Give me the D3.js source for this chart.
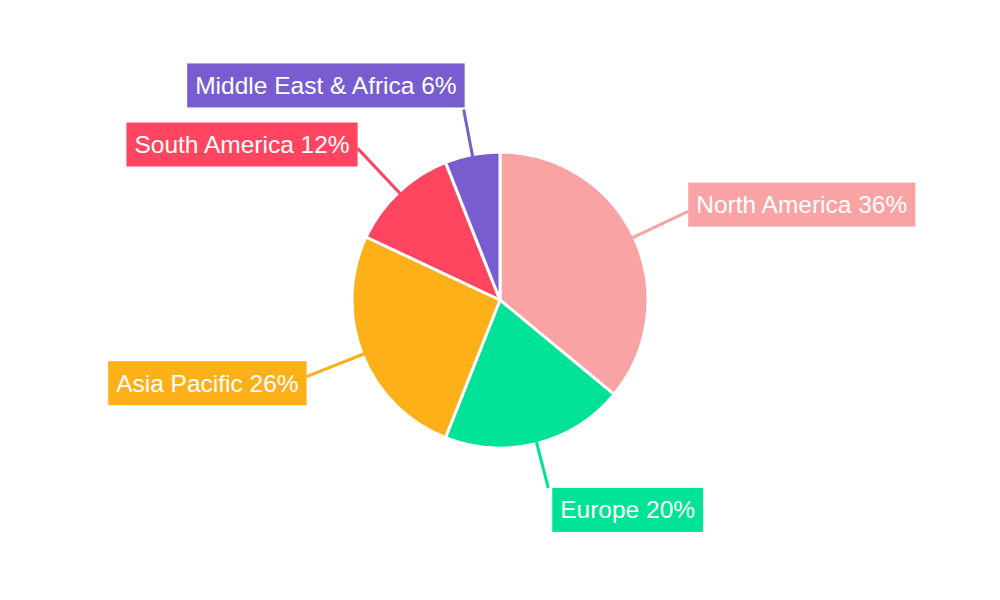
<!DOCTYPE html>
<html><head><meta charset="utf-8">
<script src="https://cdn.jsdelivr.net/npm/d3@7/dist/d3.min.js"></script>
<style>html,body{margin:0;padding:0;background:#fff;}svg{display:block;}</style>
</head><body>
<svg id="c" width="1000" height="600"></svg>
<script>
const categories = ["North America", "Europe", "Asia Pacific", "South America", "Middle East & Africa"];
const values = [36, 20, 26, 12, 6];
const colors = ["#F9A3A4", "#00E396", "#FEB019", "#FF4560", "#775DD0"];

const svg = d3.select("#c");
const cx = 500, cy = 300, R = 148;
const data = categories.map((c, i) => ({ name: c, value: values[i], color: colors[i] }));
const pie = d3.pie().value(d => d.value).sort(null);
const arcs = pie(data);
const arc = d3.arc().innerRadius(0).outerRadius(R);
const g = svg.append("g").attr("transform", `translate(${cx},${cy})`);

g.selectAll("path.slice").data(arcs).join("path")
  .attr("class", "slice")
  .attr("d", arc)
  .attr("fill", d => d.data.color)
  .attr("stroke", "#fff").attr("stroke-width", 3).attr("stroke-linejoin", "round");

const fontSize = 24.5, padX = 8, boxH = 44;
const font = "Liberation Sans, Arial, sans-serif";
const measure = svg.append("text").attr("font-family", font).attr("font-size", fontSize).attr("visibility", "hidden");

arcs.forEach(a => {
  const mid = (a.startAngle + a.endAngle) / 2;
  const s = Math.sin(mid), c = -Math.cos(mid);
  const horizontal = Math.abs(s) > 0.5;
  const r2 = horizontal ? R + 60 : R + 46;
  const x1 = s * (R - 2), y1 = c * (R - 2);
  const x2 = s * r2, y2 = c * r2;
  const label = `${a.data.name} ${a.data.value}%`;
  measure.text(label);
  const tw = measure.node().getComputedTextLength();
  const bw = tw + padX * 2;
  let bx, by;
  if (horizontal) {
    bx = s > 0 ? x2 : x2 - bw;
    by = y2 - boxH / 2 + c * 24 * Math.pow(s, 4);
  } else {
    bx = s > 0 ? x2 + 4 : x2 - bw + 1;
    by = c > 0 ? y2 : y2 - boxH - 2;
  }
  g.append("line").attr("x1", x1).attr("y1", y1).attr("x2", x2).attr("y2", y2)
    .attr("stroke", a.data.color).attr("stroke-width", 3);
  g.append("rect").attr("x", bx).attr("y", by).attr("width", bw).attr("height", boxH)
    .attr("fill", a.data.color);
  g.append("text").attr("x", bx + bw / 2).attr("y", by + boxH / 2)
    .attr("text-anchor", "middle").attr("dominant-baseline", "central")
    .attr("font-family", font).attr("font-size", fontSize)
    .attr("fill", "#fff").text(label);
});
measure.remove();
</script>
</body></html>
